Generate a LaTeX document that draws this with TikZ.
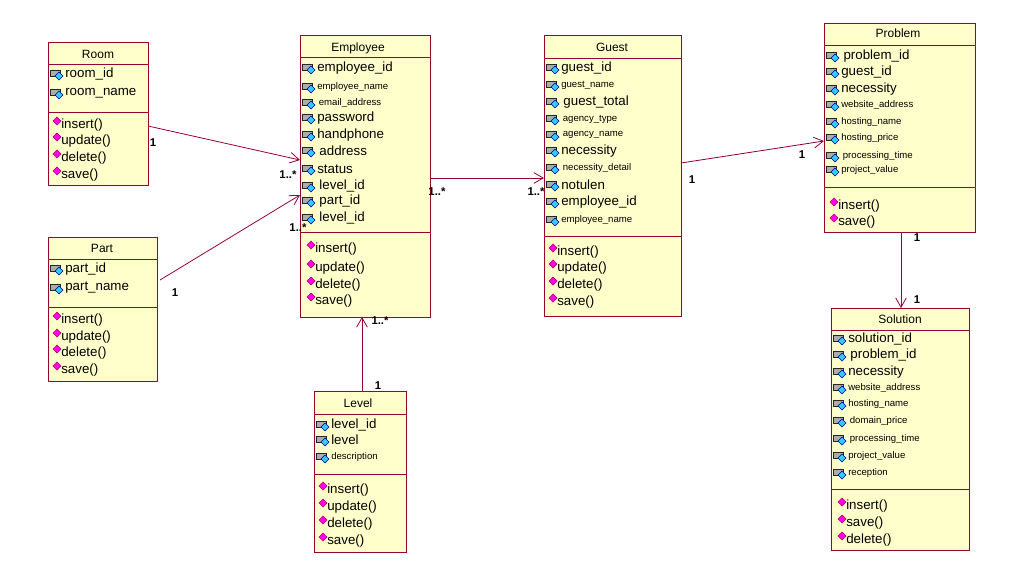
\documentclass[tikz,border=0pt]{standalone}
\usepackage{fontspec}
\setmainfont{Liberation Sans}
\usetikzlibrary{arrows.meta}
\definecolor{cbord}{HTML}{990033}
\definecolor{cfill}{HTML}{FFFFCC}
\definecolor{ccyan}{HTML}{33CCFF}
\definecolor{cmag}{HTML}{FF00FF}
\tikzset{
  cls/.style={draw=cbord,fill=cfill,line width=0.7pt},
  sep/.style={draw=cbord,line width=0.7pt},
  txt/.style={anchor=west,inner sep=0pt,font=\fontsize{10}{11}\selectfont},
  small/.style={anchor=west,inner sep=0pt,font=\fontsize{7.2}{8}\selectfont},
  ttl/.style={inner sep=1pt,font=\fontsize{9}{10}\selectfont},
  mult/.style={inner sep=0pt,font=\bfseries\fontsize{8.5}{9}\selectfont},
  assoc/.style={draw=cbord,line width=0.6pt,-{Straight Barb[length=7pt,width=8pt]}}
}
\newcommand{\ATT}[4][txt]{%
  \draw[gray!30!black,line width=0.8pt] (#2+4,#3-4) arc (180:0:3 and 3.5);
  \fill[gray!65,draw=gray!30!black,line width=0.3pt] (#2+2,#3-4) rectangle (#2+12,#3+2);
  \fill[ccyan,draw=blue!60!black,line width=0.3pt] (#2+11,#3-2)--(#2+15,#3+2)--(#2+11,#3+6)--(#2+7,#3+2)--cycle;
  \node[#1] at (#2+17,#3) {#4};}
\newcommand{\MET}[3]{%
  \fill[cmag,draw=purple,line width=0.3pt] (#1+5,#2-8)--(#1+9,#2-4)--(#1+5,#2)--(#1+1,#2-4)--cycle;
  \node[txt] at (#1+9,#2) {#3};}
\begin{document}
\begin{tikzpicture}[x=0.75pt,y=-0.75pt]
\useasboundingbox (0,0) rectangle (1024,577);
% Room
\path[cls] (48,42) rectangle (148,185);
\node[ttl] (room) at (98,54) {Room};
\draw[sep] (48,64)--(148,64) (48,112)--(148,112);
\ATT{48}{74}{room\_id}\ATT{48}{93}{room\_name}
\MET{52}{125}{insert()}\MET{52}{141}{update()}\MET{52}{158}{delete()}\MET{52}{175}{save()}
% Part
\path[cls] (48,237) rectangle (157,381);
\node[ttl] (part) at (102,248) {Part};
\draw[sep] (48,259)--(157,259) (48,307)--(157,307);
\ATT{48}{269}{part\_id}\ATT{48}{288}{part\_name}
\MET{52}{320}{insert()}\MET{52}{337}{update()}\MET{52}{353}{delete()}\MET{52}{370}{save()}
% Employee
\path[cls] (300,35) rectangle (430,317);
\draw[sep] (300,57)--(430,57) (300,232)--(430,232);
\node[ttl,fill=cfill] (emp) at (358,48) {Employee};
\ATT{300}{68}{employee\_id}
\ATT[small]{300}{87}{employee\_name}
\ATT[small]{300}{103}{\,email\_address}
\ATT{300}{118}{password}
\ATT{300}{135}{handphone}
\ATT{300}{151}{\,address}
\ATT{300}{169}{status}
\ATT{300}{186}{\,level\_id}
\ATT{300}{201}{\,part\_id}
\ATT{300}{218}{\,level\_id}
\MET{306}{249}{insert()}\MET{306}{268}{update()}\MET{306}{285}{delete()}\MET{306}{301}{save()}
% Guest
\path[cls] (544,35) rectangle (681,316);
\node[ttl] (guest) at (612,47) {Guest};
\draw[sep] (544,58)--(681,58) (544,236)--(681,236);
\ATT{544}{68}{guest\_id}
\ATT[small]{544}{85}{guest\_name}
\ATT{544}{102}{\,guest\_total}
\ATT[small]{544}{119}{\,agency\_type}
\ATT[small]{544}{135}{\,agency\_name}
\ATT{544}{151}{necessity}
\ATT[small]{544}{168}{\,necessity\_detail}
\ATT{544}{185}{notulen}
\ATT{544}{202}{employee\_id}
\ATT[small]{544}{220}{employee\_name}
\MET{548}{252}{insert()}\MET{548}{268}{update()}\MET{548}{285}{delete()}\MET{548}{302}{save()}
% Problem
\path[cls] (824,23) rectangle (975,232);
\node[ttl] (prob) at (898,33) {Problem};
\draw[sep] (824,45)--(975,45) (824,187)--(975,187);
\ATT{824}{56}{\,problem\_id}
\ATT{824}{72}{guest\_id}
\ATT{824}{89}{necessity}
\ATT[small]{824}{105}{website\_address}
\ATT[small]{824}{122}{hosting\_name}
\ATT[small]{824}{138}{hosting\_price}
\ATT[small]{824}{156}{\,processing\_time}
\ATT[small]{824}{170}{project\_value}
\MET{829}{206}{insert()}\MET{829}{222}{save()}
% Solution
\path[cls] (831,308) rectangle (969,550);
\node[ttl] (sol) at (900,319) {Solution};
\draw[sep] (831,330)--(969,330) (831,489)--(969,489);
\ATT{831}{339}{solution\_id}
\ATT{831}{355}{\,problem\_id}
\ATT{831}{372}{necessity}
\ATT[small]{831}{388}{website\_address}
\ATT[small]{831}{404}{hosting\_name}
\ATT[small]{831}{421}{\,domain\_price}
\ATT[small]{831}{439}{\,processing\_time}
\ATT[small]{831}{456}{project\_value}
\ATT[small]{831}{473}{reception}
\MET{837}{506}{insert()}\MET{837}{523}{save()}\MET{837}{540}{delete()}
% Level
\path[cls] (314,391) rectangle (406,552);
\node[ttl] (lev) at (358,403) {Level};
\draw[sep] (314,414)--(406,414) (314,474)--(406,474);
\ATT{314}{425}{level\_id}
\ATT{314}{440}{level}
\ATT[small]{314}{457}{description}
\MET{318}{490}{insert()}\MET{318}{507}{update()}\MET{318}{524}{delete()}\MET{318}{541}{save()}
% connectors
\coordinate (roomA) at (148,126); \coordinate (empA) at (300,160);
\coordinate (partA) at (160,280); \coordinate (empB) at (300,195);
\coordinate (empC) at (430,178); \coordinate (guestA) at (544,178);
\coordinate (guestB) at (681,163); \coordinate (probA) at (824,141);
\coordinate (probB) at (901,232); \coordinate (solA) at (901,308);
\coordinate (levA) at (362,391); \coordinate (empD) at (362,317);
\draw[assoc] (roomA)--(empA);
\draw[assoc] (partA)--(empB);
\draw[assoc] (empC)--(guestA);
\draw[assoc] (guestB)--(probA);
\draw[assoc] (probB)--(solA);
\draw[assoc] (levA)--(empD);
\node[mult] (m1) at (153,143) {1};
\node[mult] (m2) at (288,175) {1..*};
\node[mult] (m3) at (175,293) {1};
\node[mult] (m4) at (298,228) {1..*};
\node[mult] (m5) at (437,192) {1..*};
\node[mult] (m6) at (536,192) {1..*};
\node[mult] (m7) at (692,180) {1};
\node[mult] (m8) at (802,155) {1};
\node[mult] (m9) at (917,238) {1};
\node[mult] (m10) at (917,300) {1};
\node[mult] (m11) at (378,386) {1};
\node[mult] (m12) at (380,321) {1..*};
\end{tikzpicture}
\end{document}
